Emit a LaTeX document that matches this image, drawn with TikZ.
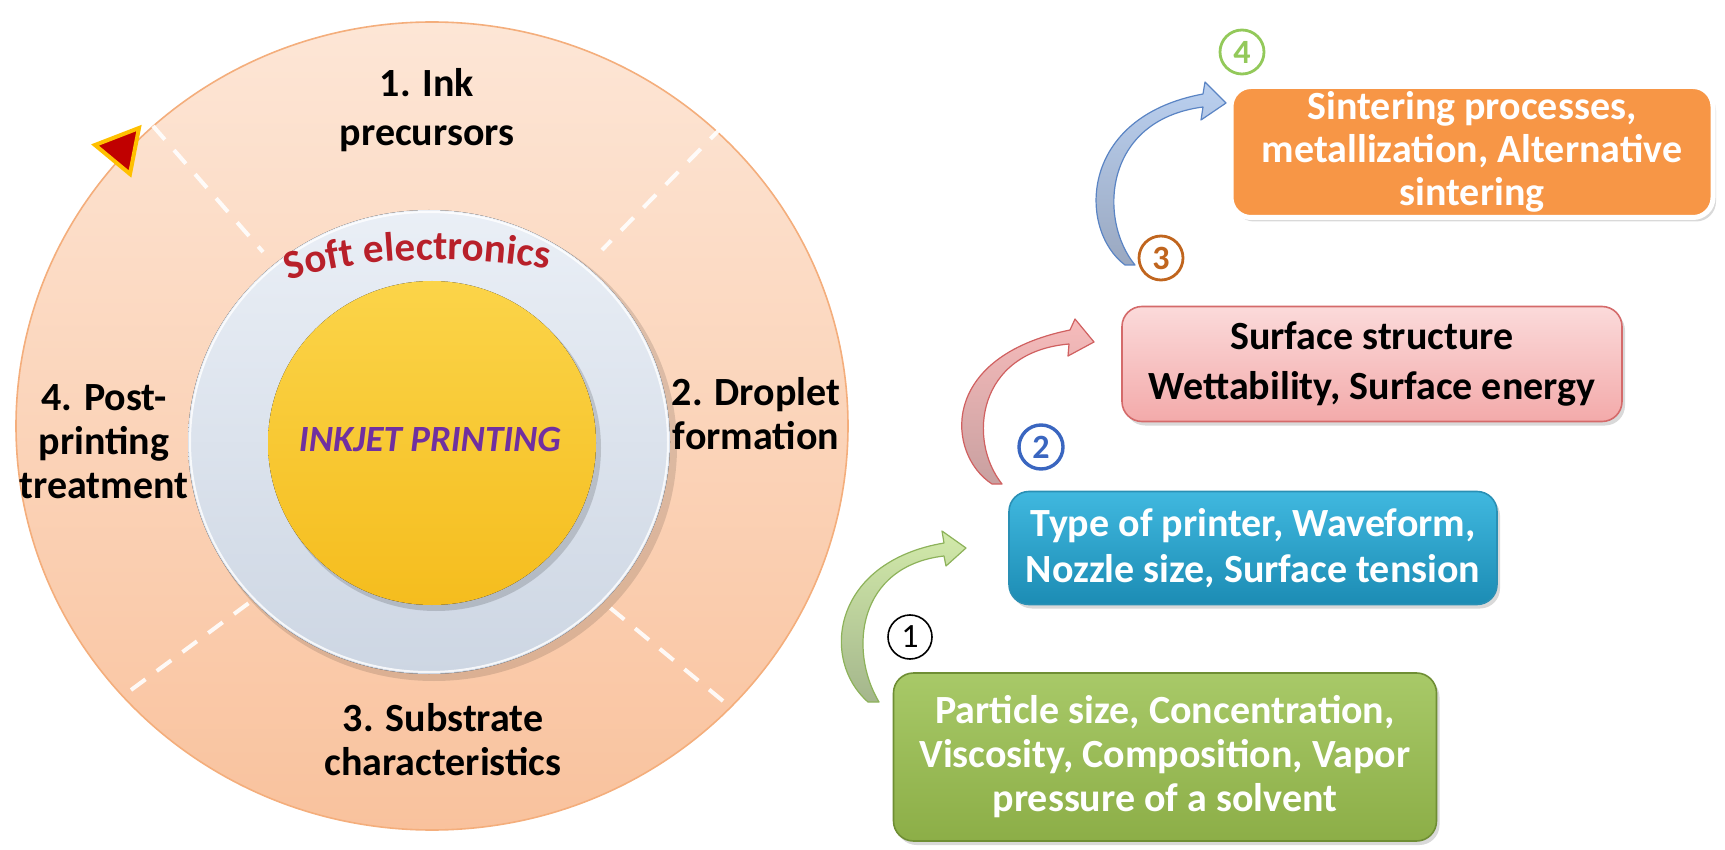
\documentclass[tikz,border=0pt]{standalone}
\usepackage{fontspec}
\setmainfont{Carlito}
\usetikzlibrary{shadows,decorations.text}
\definecolor{ringedge}{HTML}{F4AE7C}
\definecolor{ringtop}{HTML}{FDE6D6}
\definecolor{ringbot}{HTML}{F9C29D}
\definecolor{softtop}{HTML}{EAEFF6}
\definecolor{softbot}{HTML}{CDD6E3}
\definecolor{yeltop}{HTML}{FBD449}
\definecolor{yelbot}{HTML}{F5BD1E}
\definecolor{inkpurple}{HTML}{7030A0}
\definecolor{softred}{HTML}{B8202A}
\definecolor{trired}{HTML}{C00000}
\definecolor{triedge}{HTML}{FFC000}
\definecolor{boxorange}{HTML}{F79646}
\definecolor{pinktop}{HTML}{FBDADA}
\definecolor{pinkbot}{HTML}{F3AAAA}
\definecolor{pinkedge}{HTML}{D46A6A}
\definecolor{bluetop}{HTML}{40B8DF}
\definecolor{bluebot}{HTML}{1C8CB4}
\definecolor{blueedge}{HTML}{2A90B5}
\definecolor{greentop}{HTML}{A8C968}
\definecolor{greenbot}{HTML}{8CAE47}
\definecolor{greenedge}{HTML}{6F8E34}
\definecolor{garrtop}{HTML}{D2EAAA}
\definecolor{garrbot}{HTML}{A4B68C}
\definecolor{garredge}{HTML}{8DB25A}
\definecolor{rarrtop}{HTML}{F7BBBB}
\definecolor{rarrbot}{HTML}{C8A0A0}
\definecolor{rarredge}{HTML}{D06060}
\definecolor{barrtop}{HTML}{BAD0F0}
\definecolor{barrbot}{HTML}{9AA8C0}
\definecolor{barredge}{HTML}{5A84C4}
\definecolor{numblue}{HTML}{3A66C0}
\definecolor{numbrown}{HTML}{C0651E}
\definecolor{numgreen}{HTML}{93C95A}
\tikzset{
  lab/.style={font=\bfseries\fontsize{20}{22}\selectfont, align=center, inner sep=0pt},
  boxbase/.style={rounded corners=10pt, align=center, inner sep=0pt,
    drop shadow={shadow xshift=1.5pt,shadow yshift=-2pt,opacity=0.3}},
  whitedash/.style={draw=white, line width=2pt, dash pattern=on 9pt off 7pt, opacity=0.9},
  numcirc/.style={circle, inner sep=0pt, minimum size=22pt, font=\bfseries\fontsize{17}{17}\selectfont},
  garrow/.style={top color=garrtop, bottom color=garrbot, draw=garredge, line width=0.6pt, line join=round},
  rarrow/.style={top color=rarrtop, bottom color=rarrbot, draw=rarredge, line width=0.6pt, line join=round},
  barrow/.style={top color=barrtop, bottom color=barrbot, draw=barredge, line width=0.6pt, line join=round}
}
\begin{document}
\begin{tikzpicture}[x=0.5pt,y=-0.5pt]
\useasboundingbox (0,0) rectangle (1725,850);
% ---- outer ring ----
\fill[top color=ringtop, bottom color=ringbot] (432,426) ellipse [x radius=416, y radius=404];
\draw[ringedge, line width=0.8pt] (432,426) ellipse [x radius=416, y radius=404];
% dashed separators
\coordinate (ula) at (153,126); \coordinate (ulb) at (263,252);
\coordinate (ura) at (723,126); \coordinate (urb) at (602,250);
\coordinate (lla) at (131,690); \coordinate (llb) at (257,597);
\coordinate (lra) at (723,701); \coordinate (lrb) at (597,597);
\draw[whitedash] (ula) -- (ulb);
\draw[whitedash] (ura) -- (urb);
\draw[whitedash] (lla) -- (llb);
\draw[whitedash] (lra) -- (lrb);
% ---- soft ring ----
\fill[black, opacity=0.12] (434,447) ellipse [x radius=243, y radius=234];
\fill[top color=softtop, bottom color=softbot] (429,442) ellipse [x radius=241, y radius=232];
\draw[white, line width=1pt, opacity=0.8] (429,442) ellipse [x radius=239, y radius=230];
% ---- yellow core ----
\fill[black, opacity=0.15] (436,448) ellipse [x radius=165, y radius=163];
\fill[top color=yeltop, bottom color=yelbot] (432,443) ellipse [x radius=164, y radius=162];
% triangle marker
\filldraw[fill=trired, draw=triedge, line width=2pt, line join=miter] (95,145) -- (139,128) -- (130,174) -- cycle;
% ---- ring labels ----
\node[lab, font=\bfseries\fontsize{20}{24.5}\selectfont] (l1) at (427,110) {1. Ink\\precursors};
\node[lab] (l2) at (756,414) {2. Droplet\\formation};
\node[lab] (l3) at (443,740) {3. Substrate\\characteristics};
\node[lab] (l4) at (104,442) {4. Post-\\printing\\treatment};
% ---- soft electronics (arched) ----
\path[decorate, decoration={text along path, text align=center, text color=softred,
  text={|\bfseries\fontsize{20.5}{20.5}\selectfont|Soft electronics}}]
  (285,282) .. controls (360,255) and (470,255) .. (553,270);
% ---- inkjet printing ----
\node[font=\bfseries\itshape\fontsize{18.5}{20}\selectfont, text=inkpurple] (inkjet) at (430,440) {INKJET PRINTING};
% ---- boxes ----
\node[boxbase, fill=boxorange, draw=white, line width=2.5pt, text=white,
  minimum width=241pt, minimum height=65.5pt, font=\bfseries\fontsize{20}{21.5}\selectfont] (b4) at (1472,152) {Sintering processes,\\metallization, Alternative\\sintering};
\node[boxbase, top color=pinktop, bottom color=pinkbot, draw=pinkedge, line width=0.8pt, text=black,
  minimum width=250pt, minimum height=57.5pt, font=\bfseries\fontsize{20}{25}\selectfont] (b3) at (1372,364) {Surface structure\\Wettability, Surface energy};
\node[boxbase, top color=bluetop, bottom color=bluebot, draw=blueedge, line width=0.8pt, text=white,
  minimum width=244pt, minimum height=56.5pt, font=\bfseries\fontsize{20}{23}\selectfont] (b2) at (1253,548) {Type of printer, Waveform,\\Nozzle size, Surface tension};
\node[boxbase, top color=greentop, bottom color=greenbot, draw=greenedge, line width=0.8pt, text=white,
  minimum width=271.5pt, minimum height=84pt, font=\bfseries\fontsize{20}{22}\selectfont] (b1) at (1165,757) {Particle size, Concentration,\\Viscosity, Composition, Vapor\\pressure of a solvent};
% ---- curved arrows ----
\path[garrow] (868,702) .. controls (820,660) and (832,562) .. (944,543) -- (942,531) -- (966,548) -- (946,566) -- (944,556) .. controls (858,566) and (848,650) .. (879,702) -- cycle;
\path[rarrow] (992,484) .. controls (947,455) and (937,357) .. (1070,330) -- (1075,319) -- (1094,342) -- (1068,356) -- (1069,344) .. controls (977,352) and (967,440) .. (1002,484) -- cycle;
\path[barrow] (1125,265) .. controls (1078,230) and (1078,117) .. (1203,94) -- (1205,82) -- (1226,103) -- (1201,120) -- (1203,107) .. controls (1103,120) and (1098,220) .. (1135,265) -- cycle;
% ---- circled numbers ----
\node[numcirc, draw=black, line width=0.8pt, font=\fontsize{17}{17}\selectfont] (n1) at (910,637) {1};
\node[numcirc, draw=numblue, line width=1.7pt, text=numblue] (n2) at (1041,447) {2};
\node[numcirc, draw=numbrown, line width=1.4pt, text=numbrown] (n3) at (1161,258) {3};
\node[numcirc, draw=numgreen, line width=1.4pt, text=numgreen] (n4) at (1242,52) {4};
\end{tikzpicture}
\end{document}
